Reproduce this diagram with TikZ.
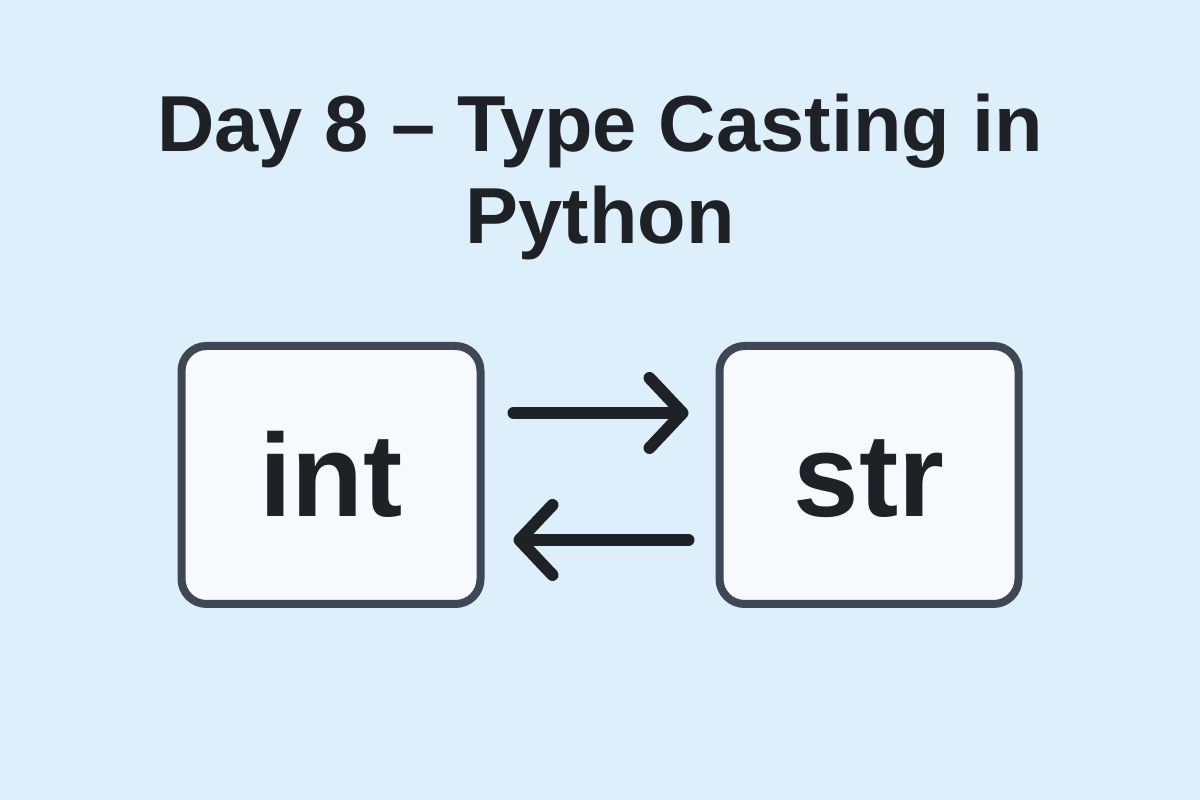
\documentclass[tikz,border=0pt]{standalone}
\usepackage{fontspec}
\setmainfont{Liberation Sans}
\definecolor{sky}{RGB}{221,239,251}
\definecolor{card}{RGB}{247,249,252}
\definecolor{rim}{RGB}{62,72,84}
\definecolor{ink}{RGB}{30,34,39}
\usetikzlibrary{arrows.meta,positioning}

\begin{document}
\begin{tikzpicture}[font=\bfseries,
    typebox/.style={draw=rim, fill=card, line width=0.08cm, rounded corners=0.25cm,
      minimum width=2.99cm, minimum height=2.58cm, text=ink,
      text height=0.83cm, text depth=0pt,
      font=\fontsize{33.5}{40}\selectfont\bfseries},
    cast/.style={draw=ink, line width=0.12cm, line cap=round,
      -{Straight Barb[length=0.33cm, width=0.7cm, round]}}]
  \fill[sky] (0,0) rectangle (12,8);
  \useasboundingbox (0,0) rectangle (12,8);
  % title
  \node[text=ink, align=center, font=\fontsize{22.6}{26.4}\selectfont\bfseries, anchor=base]
    (title) at (6,5.56) {Day 8 -- Type Casting in\\Python};
  % the two types
  \node[typebox] (int) at (3.31,3.25) {int};
  \node[typebox] (str) at (8.69,3.25) {str};
  % conversions
  \draw[cast, shorten <=0.29cm, shorten >=0.27cm]
    ([yshift=0.62cm]int.east) -- ([yshift=0.62cm]str.west);
  \draw[cast, shorten <=0.27cm, shorten >=0.29cm]
    ([yshift=-0.65cm]str.west) -- ([yshift=-0.65cm]int.east);
\end{tikzpicture}
\end{document}
